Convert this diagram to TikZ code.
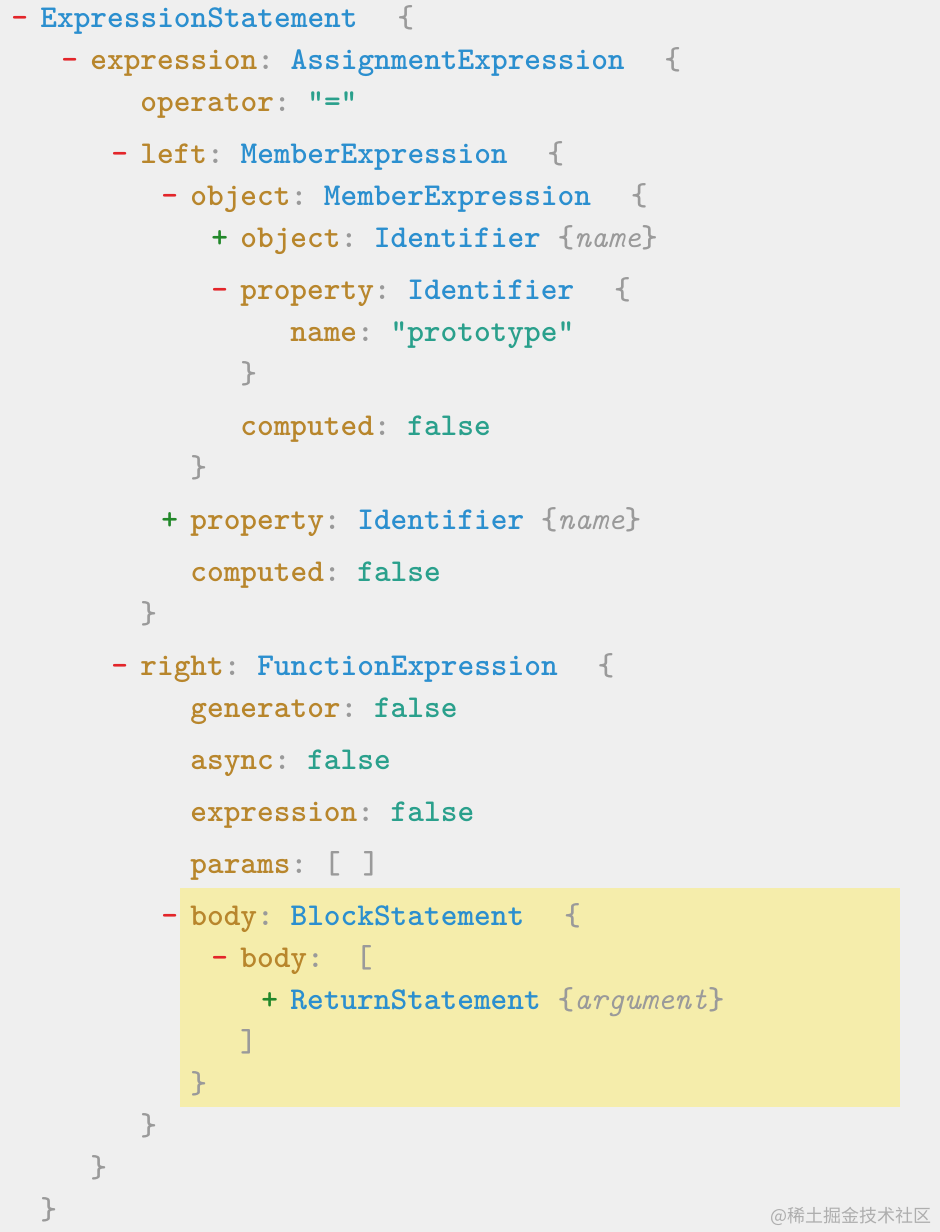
\documentclass[tikz,border=0pt]{standalone}
\usepackage{fontspec}
\newfontfamily\cjk{Noto Sans CJK SC}
\definecolor{bgc}{HTML}{EFEFEF}
\definecolor{hlc}{HTML}{F5EDAB}
\definecolor{keyc}{HTML}{B8862C}
\definecolor{typec}{HTML}{2B8FCF}
\definecolor{valc}{HTML}{2AA08C}
\definecolor{punc}{HTML}{9A9A9A}
\definecolor{minc}{HTML}{E3252A}
\definecolor{plusc}{HTML}{22882A}
% colour macros for the tree text
\newcommand\K[1]{\textcolor{keyc}{#1}\textcolor{punc}{:}}
\newcommand\T[1]{\textcolor{typec}{#1}}
\newcommand\V[1]{\textcolor{valc}{#1}}
\newcommand\Pu[1]{\textcolor{punc}{#1}}
\newcommand\Ob{\hspace{1.25em}\Pu{\{}}
\newcommand\Hint[1]{\textcolor{punc}{\{\textmd{\itshape #1}\}}}

\begin{document}
\begin{tikzpicture}[x=0.5pt,y=-0.5pt]
\tikzset{
% one row of the tree, and the two toggle signs
row/.style={anchor=base west,inner sep=0,font=\ttfamily\bfseries\frenchspacing\fontsize{15.9}{18}\selectfont},
minus/.style={row,text=minc},
plus/.style={row,text=plusc}
}
\fill[bgc] (0,0) rectangle (940,1232);
\useasboundingbox (0,0) rectangle (940,1232);
% selected node
\fill[hlc] (180,888) rectangle (900,1107);

% The tree
\node(s1)[minus] at (11,27) {-};
\node(n1)[row] at (40,27) {\T{ExpressionStatement}\Ob};
\node(s2)[minus] at (61,69) {-};
\node(n2)[row] at (90,69) {\K{expression} \T{AssignmentExpression}\Ob};
\node(n3)[row] at (140,111) {\K{operator} \V{"="}};
\node(s4)[minus] at (111,163) {-};
\node(n4)[row] at (140,163) {\K{left} \T{MemberExpression}\Ob};
\node(s5)[minus] at (161,205) {-};
\node(n5)[row] at (190,205) {\K{object} \T{MemberExpression}\Ob};
\node(s6)[plus] at (211,247) {+};
\node(n6)[row] at (240,247) {\K{object} \T{Identifier} \Hint{name}};
\node(s7)[minus] at (211,299) {-};
\node(n7)[row] at (240,299) {\K{property} \T{Identifier}\Ob};
\node(n8)[row] at (290,341) {\K{name} \V{"prototype"}};
\node(n9)[row] at (240,383) {\Pu{\}}};
\node(n10)[row] at (240,435) {\K{computed} \V{false}};
\node(n11)[row] at (190,477) {\Pu{\}}};
\node(s12)[plus] at (161,529) {+};
\node(n12)[row] at (190,529) {\K{property} \T{Identifier} \Hint{name}};
\node(n13)[row] at (190,581) {\K{computed} \V{false}};
\node(n14)[row] at (140,623) {\Pu{\}}};
\node(s15)[minus] at (111,675) {-};
\node(n15)[row] at (140,675) {\K{right} \T{FunctionExpression}\Ob};
\node(n16)[row] at (190,717) {\K{generator} \V{false}};
\node(n17)[row] at (190,769) {\K{async} \V{false}};
\node(n18)[row] at (190,821) {\K{expression} \V{false}};
\node(n19)[row] at (190,873) {\K{params} \Pu{[\hspace{0.7em}]}};
\node(s20)[minus] at (161,925) {-};
\node(n20)[row] at (190,925) {\K{body} \T{BlockStatement}\Ob};
\node(s21)[minus] at (211,967) {-};
\node(n21)[row] at (240,967) {\K{body}\hspace{1em}\Pu{[}};
\node(s22)[plus] at (261,1009) {+};
\node(n22)[row] at (290,1009) {\T{ReturnStatement} \Hint{argument}};
\node(n23)[row] at (240,1051) {\Pu{]}};
\node(n24)[row] at (190,1093) {\Pu{\}}};
\node(n25)[row] at (140,1135) {\Pu{\}}};
\node(n26)[row] at (90,1177) {\Pu{\}}};
\node(n27)[row] at (40,1219) {\Pu{\}}};

% watermark
\node(wm)[anchor=east,inner sep=0,text=punc!80,font=\cjk\fontsize{9}{11}\selectfont] at (932,1216) {@稀土掘金技术社区};
\end{tikzpicture}
\end{document}
